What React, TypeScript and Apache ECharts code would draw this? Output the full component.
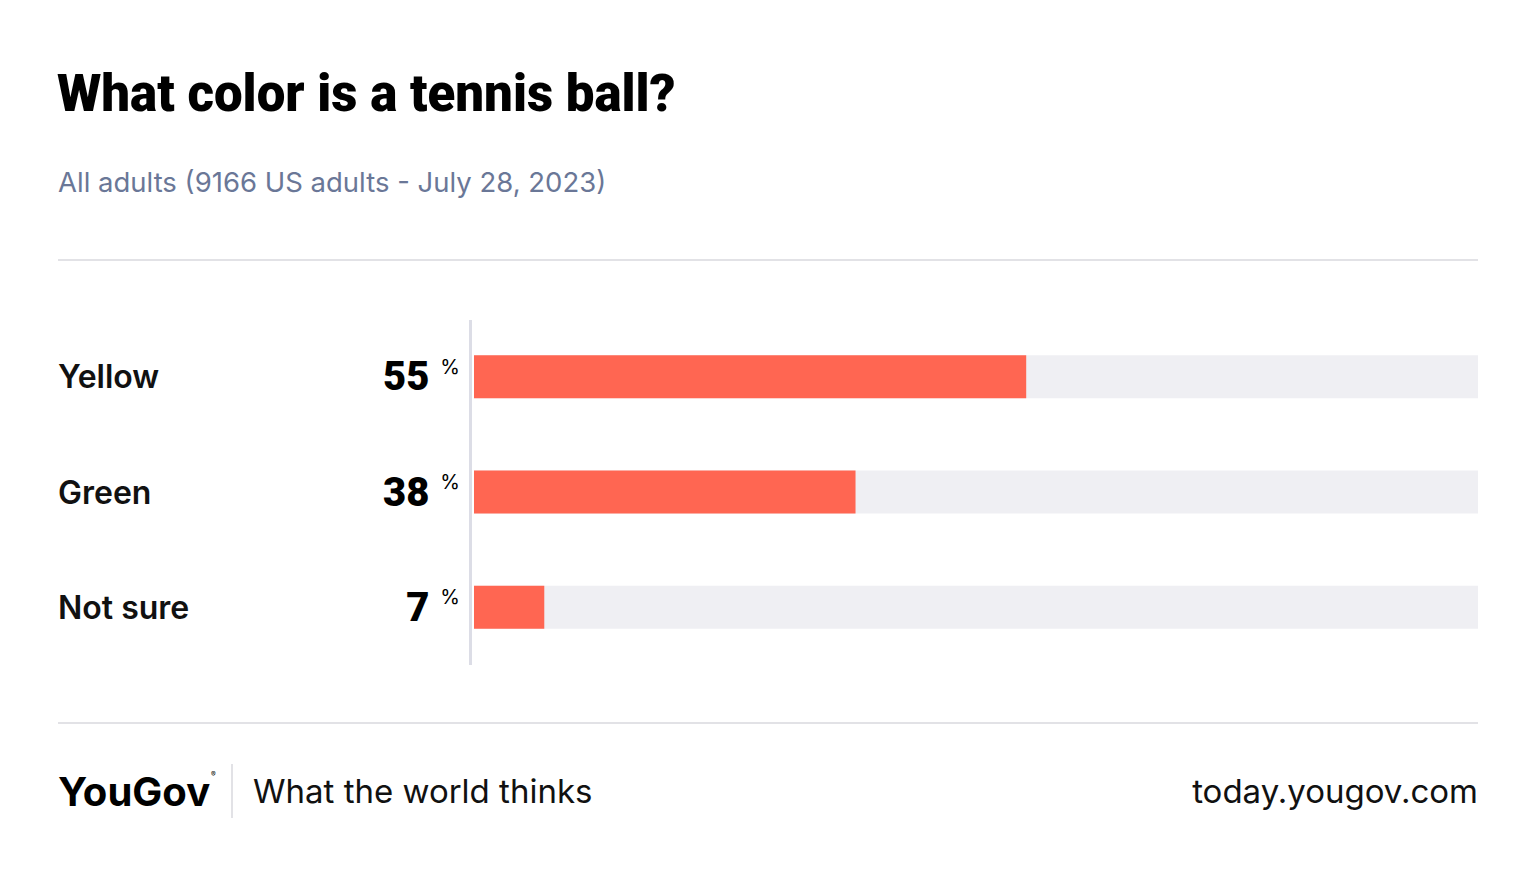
import React, { useEffect, useRef } from "react";
import * as echarts from "echarts";

const categories = ["Yellow", "Green", "Not sure"];
const values = [55, 38, 7];
const axisMax = 100;

const titleText = "What color is a tennis ball?";
const subtitleText = "All adults (9166 US adults - July 28, 2023)";

export default function App() {
  const ref = useRef<HTMLDivElement>(null);
  useEffect(() => {
    if (!ref.current) return;
    const chart = echarts.init(ref.current, null, { renderer: "svg" });
    const font = "Inter, 'Noto Sans', sans-serif";
    const heavy = "Roboto, Inter, sans-serif";
    chart.setOption({
      animation: false,
      backgroundColor: "#ffffff",
      grid: { left: 474, right: 58, top: 319, bottom: 876 - 665, containLabel: false },
      xAxis: {
        type: "value",
        min: 0,
        max: axisMax,
        show: false,
      },
      yAxis: {
        type: "category",
        data: categories,
        inverse: true,
        axisLine: { show: false },
        axisTick: { show: false },
        splitLine: { show: false },
        axisLabel: {
          align: "left",
          margin: 416,
          fontFamily: font,
          fontSize: 32,
          fontWeight: 600,
          color: "#111111",
        },
      },
      series: [
        {
          type: "bar",
          data: values,
          barWidth: 43,
          itemStyle: { color: "#ff6652" },
          showBackground: true,
          backgroundStyle: { color: "#efeff3" },
          label: {
            show: true,
            position: "left",
            distance: 14,
            formatter: (p: any) => `{v|${p.value}}{s| }{p|%}`,
            rich: {
              v: { fontFamily: heavy, fontSize: 40, fontWeight: 900, color: "#000000", lineHeight: 40 },
              s: { fontSize: 10, width: 11 },
              p: { fontFamily: font, fontSize: 20, fontWeight: 400, color: "#000000", verticalAlign: "top", lineHeight: 24 },
            },
          },
        },
      ],
      graphic: [
        {
          type: "text",
          x: 57,
          y: 93,
          style: {
            text: titleText,
            fontFamily: heavy,
            fontSize: 51,
            fontWeight: 900,
            fill: "#000000",
            textVerticalAlign: "middle",
          },
        },
        {
          type: "text",
          x: 58,
          y: 182,
          style: {
            text: subtitleText,
            fontFamily: font,
            fontSize: 27.5,
            fontWeight: 400,
            fill: "#6a7797",
            textVerticalAlign: "middle",
          },
        },
        { type: "rect", shape: { x: 58, y: 259, width: 1420, height: 2 }, style: { fill: "#e2e2e6" } },
        { type: "rect", shape: { x: 58, y: 722, width: 1420, height: 2 }, style: { fill: "#e2e2e6" } },
        { type: "rect", shape: { x: 469, y: 320, width: 3, height: 345 }, style: { fill: "#dcdde6" } },
        {
          type: "text",
          x: 58,
          y: 791,
          style: {
            text: "YouGov",
            fontFamily: font,
            fontSize: 40,
            fontWeight: 700,
            fill: "#000000",
            textVerticalAlign: "middle",
          },
        },
        {
          type: "text",
          x: 211,
          y: 774,
          style: { text: "®", fontFamily: font, fontSize: 7, fill: "#000000", textVerticalAlign: "middle" },
        },
        { type: "rect", shape: { x: 231, y: 764, width: 2, height: 54 }, style: { fill: "#e2e2e6" } },
        {
          type: "text",
          x: 253,
          y: 791,
          style: {
            text: "What the world thinks",
            fontFamily: font,
            fontSize: 33,
            fontWeight: 400,
            fill: "#111111",
            textVerticalAlign: "middle",
          },
        },
        {
          type: "text",
          x: 1478,
          y: 791,
          style: {
            text: "today.yougov.com",
            fontFamily: font,
            fontSize: 33,
            fontWeight: 400,
            fill: "#111111",
            textAlign: "right",
            textVerticalAlign: "middle",
          },
        },
      ],
    });
    return () => chart.dispose();
  }, []);
  return (
    <div
      ref={ref}
      style={{ position: "absolute", left: 0, top: 0, width: 1536, height: 876 }}
    />
  );
}
